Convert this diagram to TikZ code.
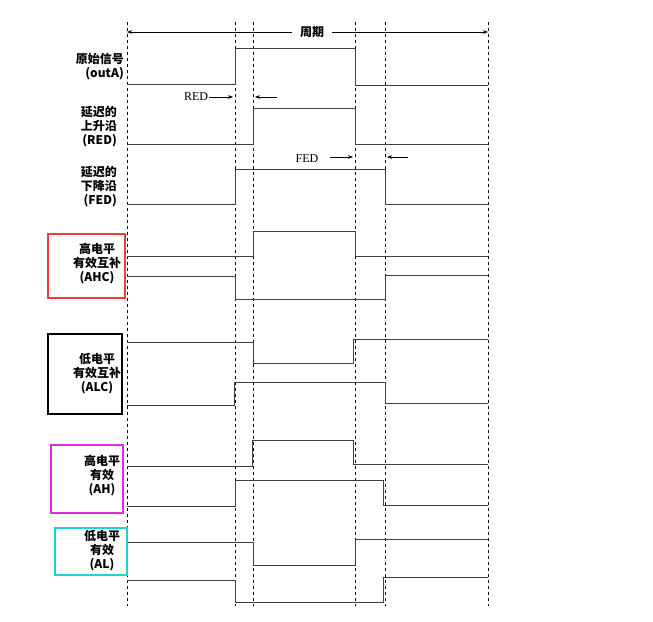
\documentclass[tikz,border=0pt]{standalone}
\usepackage{fontspec}
\setmainfont{Liberation Serif}
\newfontfamily\cjk{Noto Sans CJK SC}
\usetikzlibrary{arrows.meta}
\tikzset{
  wave/.style={line width=0.9pt, draw=black!75},
  guide/.style={dashed, line width=0.6pt},
  lbl/.style={align=center, font=\cjk\bfseries\fontsize{12}{14}\selectfont, inner sep=1pt},
  tag/.style={font=\fontsize{12}{14}\selectfont, inner sep=1pt},
  ptr/.style={-{Stealth[length=5pt]}, line width=0.6pt},
  frame/.style={line width=2.5pt}
}
\begin{document}
\begin{tikzpicture}[x=1pt, y=-1pt]
\useasboundingbox (0,0) rectangle (653,621);
% Guide lines
\foreach \gx [count=\i] in {127, 235, 253, 355, 385, 488}
  \draw [guide] (\gx, 22) -- (\gx, 606);
% Period
\node [lbl, inner xsep=8pt] (period) at (312, 32) {周期};
\coordinate (p-l) at (127, 32);
\coordinate (p-r) at (488, 32);
\draw [ptr] (period) -- (p-l);
\draw [ptr] (period) -- (p-r);
% Waveforms
\draw [wave] (127,84) -- (235,84) -- (235,48) -- (355,48) -- (355,85) -- (488,85);
\draw [wave] (127,144) -- (253,144) -- (253,108) -- (355,108) -- (355,144) -- (488,144);
\draw [wave] (127,204) -- (235,204) -- (235,169) -- (385,169) -- (385,204) -- (488,204);
\draw [wave] (127,256) -- (253,256) -- (253,231) -- (355,231) -- (355,256) -- (488,256);
\draw [wave] (127,276) -- (235,276) -- (235,299) -- (385,299) -- (385,275) -- (488,275);
\draw [wave] (127,342) -- (253,342) -- (253,363) -- (353,363) -- (353,339) -- (488,339);
\draw [wave] (127,405) -- (234,405) -- (234,382) -- (385,382) -- (385,403) -- (488,403);
\draw [wave] (127,466) -- (252,466) -- (252,440) -- (353,440) -- (353,464) -- (488,464);
\draw [wave] (127,506) -- (235,506) -- (235,480) -- (383,480) -- (383,505) -- (488,505);
\draw [wave] (127,542) -- (253,542) -- (253,565) -- (355,565) -- (355,539) -- (488,539);
\draw [wave] (127,580) -- (235,580) -- (235,602) -- (383,602) -- (383,577) -- (488,577);
% Delay markers
\node [tag] (red) at (196, 97) {RED};
\coordinate (red-a) at (233, 97);
\coordinate (red-b0) at (277, 97);
\coordinate (red-b) at (255, 97);
\draw [ptr] (red) -- (red-a);
\draw [ptr] (red-b0) -- (red-b);
\node [tag] (fed) at (307, 159) {FED};
\coordinate (fed-a) at (353, 157);
\coordinate (fed-b0) at (408, 157);
\coordinate (fed-b) at (387, 157);
\draw [ptr] ([xshift=10pt]fed.east |- fed-a) -- (fed-a);
\draw [ptr] (fed-b0) -- (fed-b);
% Labels
\node [lbl, align=right, anchor=east] (outa) at (125, 67) {原始信号\\(outA)};
\node [lbl, align=right, anchor=east] (redl) at (118, 127) {延迟的\\上升沿\\(RED)};
\node [lbl, align=right, anchor=east] (fedl) at (118, 187) {延迟的\\下降沿\\(FED)};
\node [lbl] (ahc) at (97, 264) {高电平\\有效互补\\(AHC)};
\node [lbl] (alc) at (97, 374) {低电平\\有效互补\\(ALC)};
\node [lbl] (ah) at (102, 476) {高电平\\有效\\(AH)};
\node [lbl] (al) at (102, 551) {低电平\\有效\\(AL)};
% Frames
\draw [frame, draw={rgb,255:red,240;green,60;blue,60}] (48,234) rectangle (125,298);
\draw [frame, draw=black] (48,334) rectangle (122,414);
\draw [frame, draw={rgb,255:red,230;green,40;blue,230}] (51,445) rectangle (123,513);
\draw [frame, draw={rgb,255:red,30;green,210;blue,210}] (55,528) rectangle (127,575);
\end{tikzpicture}
\end{document}
